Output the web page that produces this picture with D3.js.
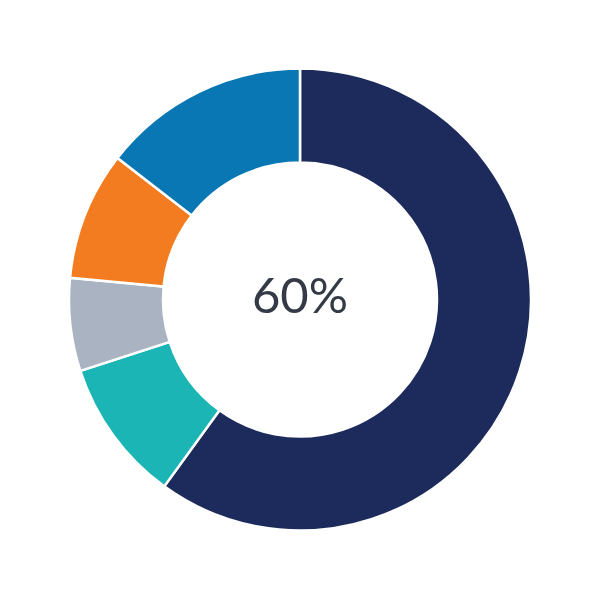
<!DOCTYPE html>
<html>
<head>
<meta charset="utf-8">
<script src="https://cdn.jsdelivr.net/npm/d3@7"></script>
<style>
  html, body { margin: 0; padding: 0; background: #fff; }
</style>
</head>
<body>
<div id="chart"></div>
<script>
const categories = ["A", "B", "C", "D", "E"]
const values = [60, 10, 6.5, 9, 14.5]
const colors = ["#1c2b5b", "#1bb5b5", "#a9b3c2", "#f47c20", "#0a77b5"]
const centerLabel = "60%"

const width = 600
const height = 599
const outerR = 231
const innerR = 137

const svg = d3.select("#chart").append("svg")
  .attr("width", width)
  .attr("height", height)

const g = svg.append("g")
  .attr("transform", `translate(${width / 2},${299.5})`)

const pie = d3.pie().sort(null).value(d => d)
const arc = d3.arc().innerRadius(innerR).outerRadius(outerR)

const color = d3.scaleOrdinal().domain(categories).range(colors)

g.selectAll("path")
  .data(pie(values))
  .join("path")
    .attr("d", arc)
    .attr("fill", (d, i) => color(categories[i]))
    .attr("stroke", "#fff")
    .attr("stroke-width", 2.5)

g.append("text")
  .attr("text-anchor", "middle")
  .attr("y", -4)
  .attr("dy", "0.35em")
  .attr("font-family", "Lato, 'Open Sans', sans-serif")
  .attr("font-weight", 400)
  .attr("font-size", 49)
  .attr("fill", "#343b46")
  .text(centerLabel)
</script>
</body>
</html>
